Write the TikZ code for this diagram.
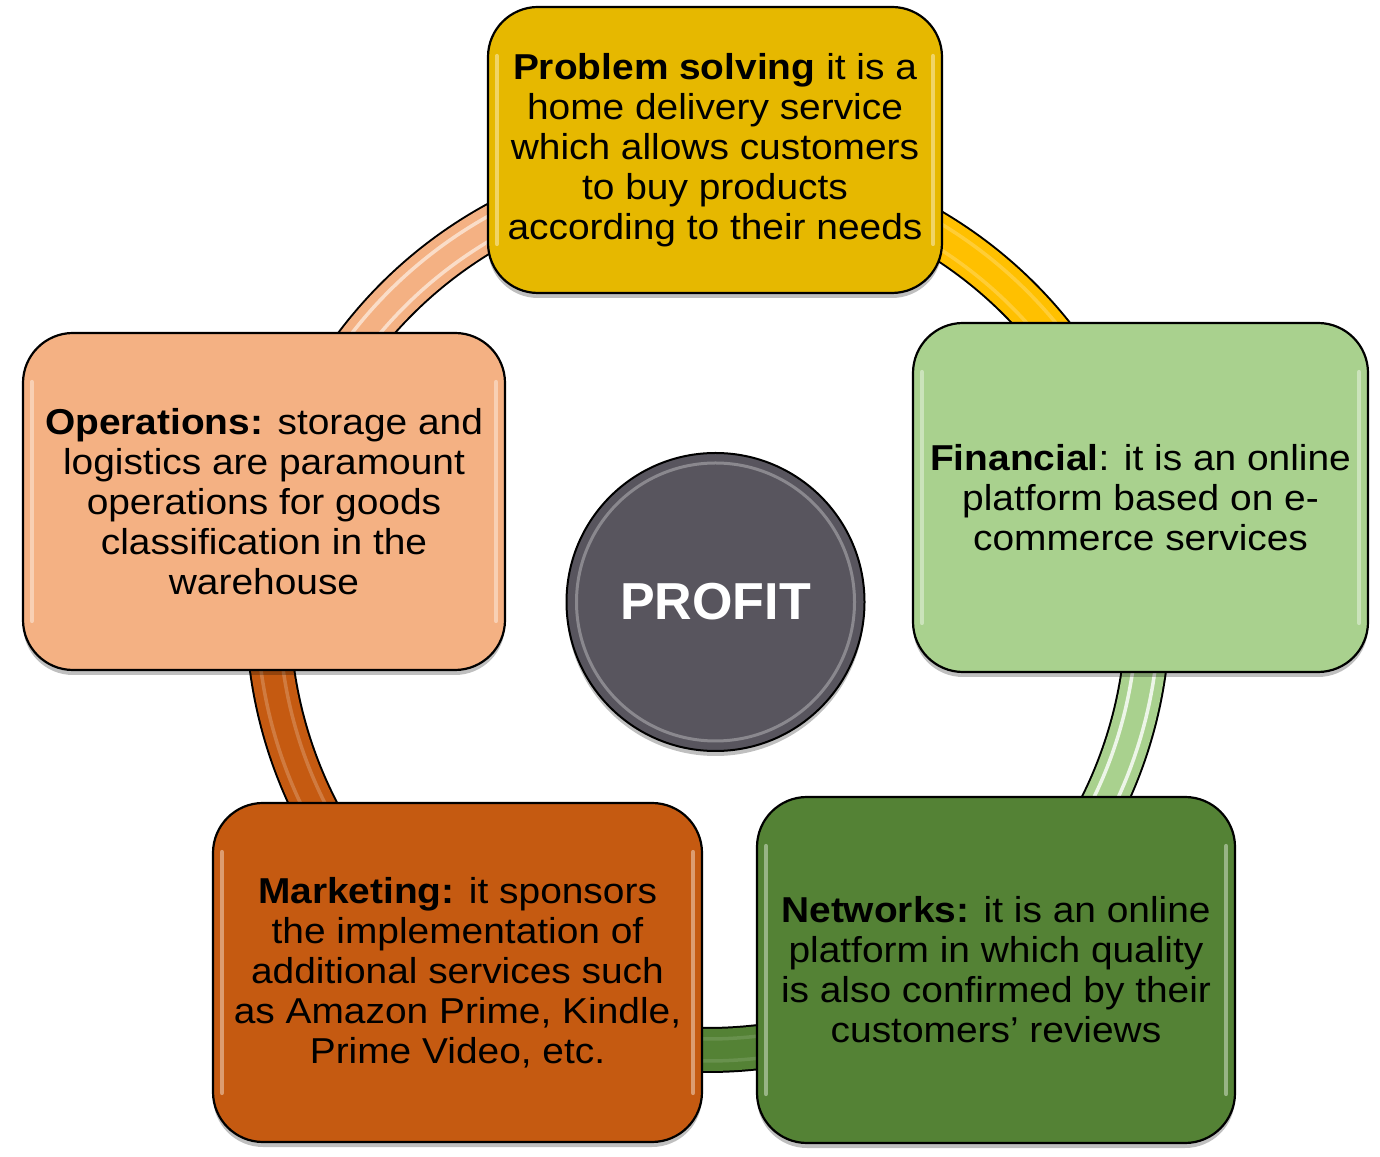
\documentclass[tikz,border=0pt]{standalone}
\usepackage{fontspec}
\setmainfont{Liberation Sans}
\newfontfamily\boxfont{Liberation Sans}[FakeStretch=1.08]
\usetikzlibrary{shadows}
\definecolor{cgold}{HTML}{E6B800}
\definecolor{cgoldband}{HTML}{FFC000}
\definecolor{clgreen}{HTML}{A9D18E}
\definecolor{cdgreen}{HTML}{548235}
\definecolor{corange}{HTML}{C55A11}
\definecolor{clorange}{HTML}{F4B183}
\definecolor{cgray}{HTML}{58555E}
\newcommand\ringband[5]{%
  \draw[black, line width=46pt] (rc) ++(#2:440) arc[start angle=#2, end angle=#3, radius=440];
  \draw[#1, line width=42pt] (rc) ++(#2:440) arc[start angle=#2, end angle=#3, radius=440];
  \draw[#4, line width=3.5pt, opacity=#5] (rc) ++(#2:451) arc[start angle=#2, end angle=#3, radius=451];
  \draw[#4, line width=3.5pt, opacity=#5] (rc) ++(#2:429) arc[start angle=#2, end angle=#3, radius=429];
}
\newcommand\glossbox[1]{%
  \draw[white, opacity=.4, line width=4pt, line cap=round] ([xshift=10pt,yshift=-50pt]#1.north west) -- ([xshift=10pt,yshift=50pt]#1.south west);
  \draw[white, opacity=.4, line width=4pt, line cap=round] ([xshift=-10pt,yshift=-50pt]#1.north east) -- ([xshift=-10pt,yshift=50pt]#1.south east);
}
\begin{document}
\begin{tikzpicture}[x=1pt,y=1pt,
  box/.style={draw=black, line width=2.2pt, rounded corners=50pt, align=center, inner sep=0pt,
    font=\boxfont\fontsize{36}{40}\selectfont,
    drop shadow={shadow xshift=0pt, shadow yshift=-5pt, opacity=0.25, fill=black}},
  hub/.style={circle, draw=black, line width=2pt, fill=cgray, text=white, inner sep=0pt,
    font=\fontsize{52}{60}\selectfont\bfseries,
    drop shadow={shadow xshift=0pt, shadow yshift=-5pt, opacity=0.25, fill=black}}
]
\useasboundingbox (0,0) rectangle (1380,1156);
\coordinate (rc) at (708,546);
% ring segments
\ringband{cgoldband}{90}{15}{cgoldband!40!white}{.35}
\ringband{clgreen}{15}{-51}{white}{.8}
\ringband{cdgreen}{-51}{-125}{cdgreen!60!white}{.3}
\ringband{corange}{-125}{-194}{corange!60!white}{.5}
\ringband{clorange}{166}{90}{clorange!30!white}{.8}
% boxes
\node[box, fill=cgold, minimum width=454pt, minimum height=286pt] (ps) at (715,1006)
  {\textbf{Problem solving} it is a\\home delivery service\\which allows customers\\to buy products\\according to their needs};
\node[box, fill=clgreen, minimum width=455pt, minimum height=349pt] (fin) at (1140.5,658.5)
  {\textbf{Financial}: it is an online\\platform based on e-\\commerce services};
\node[box, fill=cdgreen, minimum width=478pt, minimum height=346pt] (net) at (996,186)
  {\textbf{Networks:} it is an online\\platform in which quality\\is also confirmed by their\\customers’ reviews};
\node[box, fill=corange, minimum width=489pt, minimum height=339pt] (mkt) at (457.5,183.5)
  {\textbf{Marketing:} it sponsors\\the implementation of\\additional services such\\as Amazon Prime, Kindle,\\Prime Video, etc.};
\node[box, fill=clorange, minimum width=482pt, minimum height=337pt] (ops) at (264,654.5)
  {\textbf{Operations:} storage and\\logistics are paramount\\operations for goods\\classification in the\\warehouse};
\glossbox{ps}
\glossbox{fin}
\glossbox{net}
\glossbox{mkt}
\glossbox{ops}
% hub
\node[hub, minimum size=298pt] (profit) at (715.5,554) {PROFIT};
\draw[white, opacity=.3, line width=3pt] (profit.center) circle[radius=139];
\end{tikzpicture}
\end{document}
